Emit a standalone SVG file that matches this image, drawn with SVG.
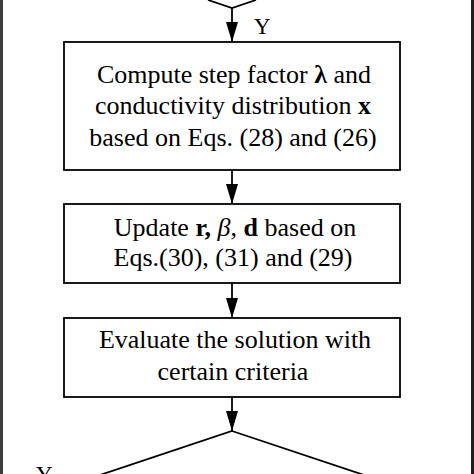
<svg xmlns="http://www.w3.org/2000/svg" width="474" height="474" viewBox="0 0 474 474">
<style>
.shape{fill:#fff;stroke:#000;stroke-width:1.8}
.line{fill:none;stroke:#000;stroke-width:1.8}
.t{font-family:"Liberation Serif","Times New Roman",serif;font-size:26px;fill:#000;text-anchor:middle}
.lbl{font-family:"Liberation Serif","Times New Roman",serif;font-size:23px;fill:#000}
.b{font-weight:bold}
.i{font-style:italic}
</style>
<defs>
<marker id="arr" markerUnits="userSpaceOnUse" markerWidth="20" markerHeight="12" refX="20" refY="6" orient="auto" viewBox="0 0 20 12">
<path d="M0,0 L20,6 L0,12 Z" fill="#000"/>
</marker>
</defs>
<rect x="0" y="0" width="474" height="474" fill="#fff"/>
<rect x="0" y="0" width="3" height="474" fill="#3c3c3c"/>
<rect x="471" y="0" width="3" height="474" fill="#1e1e1e"/>

<g id="decision-top">
<path class="line" d="M208,0 L232,8 L256,0"/>
</g>

<g id="box-compute">
<rect class="shape" x="64" y="42" width="336" height="128"/>
<text class="t" x="234" y="83">Compute step factor <tspan class="b">λ</tspan> and</text>
<text class="t" x="233" y="114">conductivity distribution <tspan class="b">x</tspan></text>
<text class="t" x="233" y="146">based on Eqs. (28) and (26)</text>
</g>

<g id="box-update">
<rect class="shape" x="64" y="204" width="336" height="79"/>
<text class="t" x="235" y="236">Update <tspan class="b">r,</tspan> <tspan class="i">β</tspan>, <tspan class="b">d</tspan> based on</text>
<text class="t" x="233" y="266">Eqs.(30), (31) and (29)</text>
</g>

<g id="box-evaluate">
<rect class="shape" x="64" y="318" width="336" height="79"/>
<text class="t" x="235" y="348">Evaluate the solution with</text>
<text class="t" x="233" y="380">certain criteria</text>
</g>

<g id="decision-bottom">
<path class="shape" d="M232,431 L361,474 L232,517 L103,474 Z"/>
</g>

<g id="connectors">
<line class="line" x1="232" y1="8" x2="232" y2="42" marker-end="url(#arr)"/>
<line class="line" x1="232" y1="170" x2="232" y2="204" marker-end="url(#arr)"/>
<line class="line" x1="232" y1="283" x2="232" y2="318" marker-end="url(#arr)"/>
<line class="line" x1="232" y1="397" x2="232" y2="431" marker-end="url(#arr)"/>
<text class="lbl" x="254" y="34">Y</text>
<text class="lbl" x="36" y="482">Y</text>
</g>
</svg>
